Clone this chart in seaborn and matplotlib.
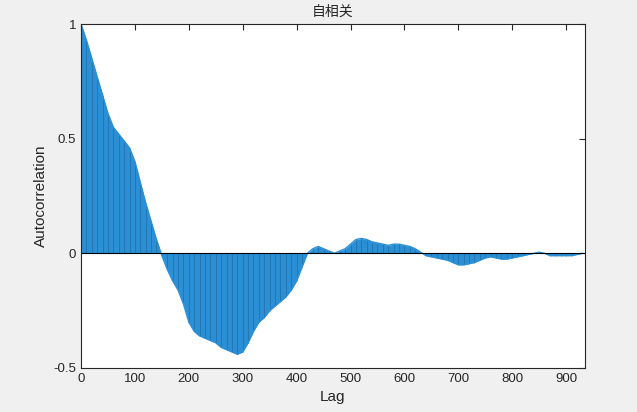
import matplotlib
matplotlib.use("Agg")
import matplotlib.pyplot as plt
import seaborn as sns
import numpy as np

lags = list(range(0, 940, 10))
acf = [1.00,0.93,0.85,0.77,0.69,0.61,0.55,0.52,0.49,0.46,0.40,0.31,0.22,0.14,0.06,-0.01,-0.07,-0.12,-0.16,-0.22,
       -0.30,-0.34,-0.36,-0.37,-0.38,-0.39,-0.41,-0.42,-0.43,-0.44,-0.43,-0.39,-0.34,-0.30,-0.28,-0.25,-0.23,-0.21,-0.19,-0.16,
       -0.12,-0.06,0.00,0.02,0.03,0.02,0.01,0.00,0.01,0.02,0.04,0.06,0.065,0.06,0.05,0.045,0.04,0.035,0.04,0.04,
       0.035,0.03,0.02,0.005,-0.01,-0.015,-0.02,-0.025,-0.03,-0.04,-0.05,-0.05,-0.045,-0.04,-0.03,-0.02,-0.015,-0.02,-0.025,-0.025,
       -0.02,-0.015,-0.01,-0.005,0.0,0.005,0.0,-0.01,-0.01,-0.01,-0.01,-0.01,-0.005,0.0]
xticks = [0,100,200,300,400,500,600,700,800,900]
yticks = [-0.5,0,0.5,1]
ytick_labels = ["-0.5","0","0.5","1"]

sns.set_style("white")
plt.rcParams['font.family'] = ['Liberation Sans', 'Noto Sans CJK SC']

fig = plt.figure(figsize=(6.37,4.12), dpi=100, facecolor='#f0f0f0')
ax = fig.add_axes([81/637, 1-368/412, (585-81)/637, (368-24)/412])
ax.fill_between(lags, 0, acf, color='#2b8fd6', lw=0)
ax.vlines(lags, 0, acf, color='#1d5f8e', lw=0.5, alpha=0.7)
sns.lineplot(x=lags, y=acf, ax=ax, color='#2b8fd6', lw=1)
ax.axhline(0, color='black', lw=0.8)
ax.set_xlim(0, 935)
ax.set_ylim(-0.5, 1)
ax.set_xticks(xticks)
ax.set_yticks(yticks)
ax.set_yticklabels(ytick_labels)
ax.tick_params(direction='in', top=True, right=True, length=4, labelsize=9.5, colors='#262626')
for s in ax.spines.values():
    s.set_color('#262626'); s.set_linewidth(0.8)
ax.set_xlabel("Lag", fontsize=11)
ax.set_ylabel("Autocorrelation", fontsize=11)
ax.set_title("自相关", fontsize=10)
fig.savefig("out.png", dpi=100, facecolor=fig.get_facecolor())
